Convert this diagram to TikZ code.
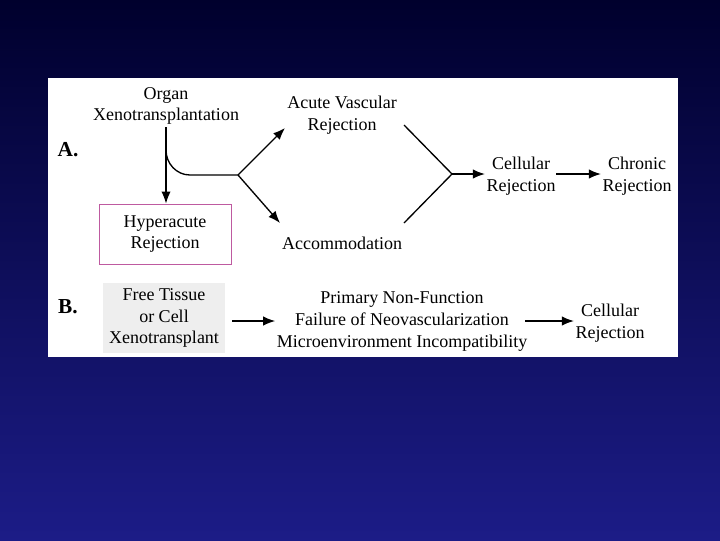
\documentclass[tikz,border=0pt]{standalone}
\usepackage{fontspec}
\setmainfont{Liberation Serif}
\usetikzlibrary{arrows.meta}
\definecolor{bgtop}{RGB}{0,0,45}
\definecolor{bgbot}{RGB}{28,28,135}
\definecolor{pinkb}{RGB}{190,90,160}
\definecolor{grayb}{RGB}{238,238,238}
\begin{document}
\begin{tikzpicture}[x=0.75pt,y=-0.75pt,
  txt/.style={font=\fontsize{13.5}{16}\selectfont,align=center,inner sep=1pt},
  lbl/.style={font=\fontsize{16}{18}\selectfont\bfseries},
  arr/.style={-{Latex[length=9pt,width=7pt]},line width=1pt},
  ln/.style={line width=1pt}]
\shade[top color=bgtop,bottom color=bgbot] (0,0) rectangle (720,540);
\useasboundingbox (0,0) rectangle (720,540);
\fill[white] (48,78) rectangle (678,357);
\node[lbl] (A) at (68,150) {A.};
\node[lbl] (B) at (68,307) {B.};
\node[txt] (organ) at (166,106) {Organ\\Xenotransplantation};
\node[txt,draw=pinkb,line width=0.6pt,minimum width=99pt,minimum height=45pt] (hyper) at (165,234) {Hyperacute\\Rejection};
\node[txt] (acute) at (342,115) {Acute Vascular\\Rejection};
\node[txt] (accom) at (342,243) {Accommodation};
\node[txt] (cell) at (521,176) {Cellular\\Rejection};
\node[txt] (chron) at (637,176) {Chronic\\Rejection};
\coordinate (top) at (166,127);
\coordinate (bend) at (166,150);
\coordinate (fork) at (238,175);
\coordinate (f1) at (285,128);
\coordinate (f2) at (280,223);
\coordinate (j1) at (404,125);
\coordinate (j2) at (404,223);
\coordinate (join) at (452,174);
\coordinate (ce) at (556,174);
\coordinate (bm) at (232,321);
\coordinate (be) at (525,321);
\draw[arr] (top) -- (hyper.north -| top);
\draw[ln] (bend) to[out=-90,in=180] (190,175) -- (fork);
\draw[arr] (fork) -- (f1);
\draw[arr] (fork) -- (f2);
\draw[ln] (j1) -- (join) -- (j2);
\draw[arr] (join) -- (join -| cell.west);
\draw[arr] (ce) -- (ce -| chron.west);
\node[txt,fill=grayb,minimum width=91pt,minimum height=52pt,font=\fontsize{13.5}{16}\selectfont] (free) at (164,318) {Free Tissue\\or Cell\\Xenotransplant};
\node[txt,font=\fontsize{13.5}{16.5}\selectfont] (prim) at (402,321) {Primary Non-Function\\Failure of Neovascularization\\Microenvironment Incompatibility};
\node[txt] (cell2) at (610,323) {Cellular\\Rejection};
\draw[arr] (bm) -- (bm -| prim.west);
\draw[arr] (be) -- (be -| cell2.west);
\end{tikzpicture}
\end{document}
